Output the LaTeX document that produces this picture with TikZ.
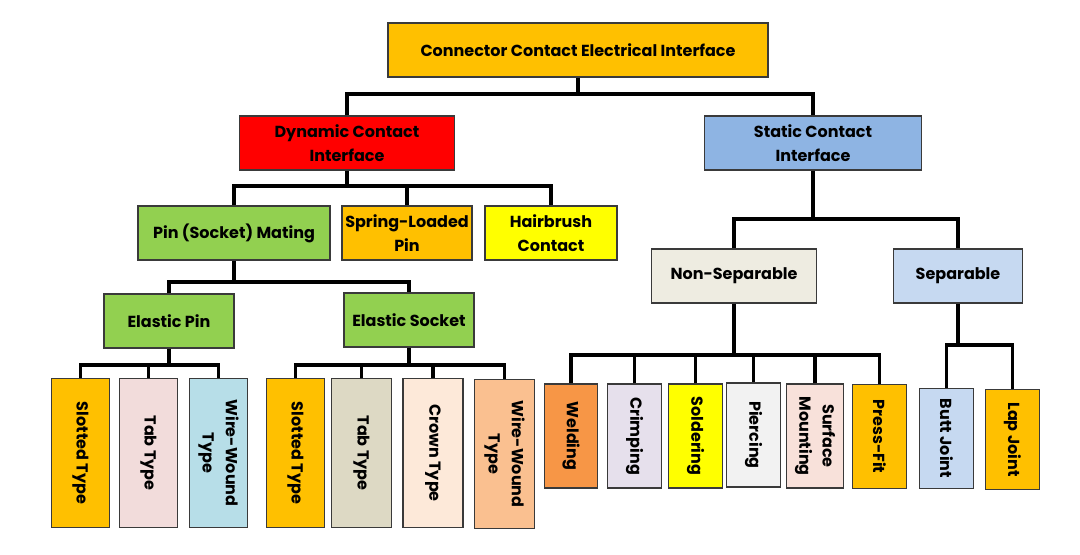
\documentclass[tikz,border=0pt]{standalone}
\usepackage{fontspec}
\setmainfont{Poppins}
\usepackage{xcolor}
\definecolor{ccamber}{HTML}{FFC000}
\definecolor{ccred}{HTML}{FF0000}
\definecolor{ccblue}{HTML}{8EB4E3}
\definecolor{ccgreen}{HTML}{92D050}
\definecolor{ccyellow}{HTML}{FFFF00}
\definecolor{ccpink}{HTML}{F2DCDB}
\definecolor{ccaqua}{HTML}{B7DEE8}
\definecolor{cctaupe}{HTML}{DDD9C4}
\definecolor{cccream}{HTML}{FDE9D9}
\definecolor{ccpeach}{HTML}{FAC090}
\definecolor{ccstone}{HTML}{EEECE1}
\definecolor{ccsky}{HTML}{C6D9F1}
\definecolor{ccorange}{HTML}{F79646}
\definecolor{cclilac}{HTML}{E6E0EC}
\definecolor{ccsilver}{HTML}{F2F2F2}
\definecolor{ccblush}{HTML}{F8E1DA}
\definecolor{ccedge}{HTML}{3A3A3A}
\usepackage{tikz}
\tikzset{
  % --- BOXES ---
  box/.style={
    draw=ccedge,
    line width=0.9pt,
    text=black,
    font=\bfseries\fontsize{12}{17.5}\selectfont,
    inner sep=2pt,
    align=center
  },
  head-box/.style={
    box,
    minimum height=40.5pt
  },
  tall-leaf/.style={
    box,
    rotate=-90,
    minimum width=112pt,
    minimum height=43pt
  },
  short-leaf/.style={
    box,
    rotate=-90,
    minimum width=78pt,
    minimum height=40pt
  },
  % --- CONNECTORS ---
  link/.style={
    draw=black,
    line width=2.4pt
  },
}

\begin{document}
\begin{tikzpicture}[x=0.75pt, y=-0.75pt]
  \useasboundingbox (0,0) rectangle (1080,555);

  % --- bus levels
  \coordinate (bus0) at (0,94);
  \coordinate (bus1) at (0,186);
  \coordinate (bus2) at (0,282);
  \coordinate (bus3) at (0,365);
  \coordinate (bus4) at (0,365);
  \coordinate (bus5) at (0,219);
  \coordinate (bus6) at (0,355);
  \coordinate (bus7) at (0,345);

  % --- top
  \node[head-box, fill=ccamber, minimum width=285pt] (root) at (578,50) {Connector Contact Electrical Interface};
  \node[head-box, fill=ccred, minimum width=161pt] (dyn) at (347,143) {Dynamic Contact\\Interface};
  \node[head-box, fill=ccblue, minimum width=163pt] (stat) at (813,143) {Static Contact\\Interface};

  % --- dynamic branch
  \node[head-box, fill=ccgreen, minimum width=144pt] (mating) at (234,233) {Pin (Socket) Mating};
  \node[head-box, fill=ccamber, minimum width=97.5pt] (spring) at (407,233) {Spring-Loaded\\Pin};
  \node[head-box, fill=ccyellow, minimum width=99pt] (hair) at (551,233) {Hairbrush\\Contact};
  \node[head-box, fill=ccgreen, minimum width=97.5pt] (epin) at (169,321) {Elastic Pin};
  \node[head-box, fill=ccgreen, minimum width=97.5pt] (esock) at (409,320) {Elastic Socket};

  \node[tall-leaf, fill=ccamber] (pslot) at (80.5,453) {Slotted Type};
  \node[tall-leaf, fill=ccpink] (ptab) at (148.5,453) {Tab Type};
  \node[tall-leaf, fill=ccaqua] (pwire) at (218.5,453) {Wire-Wound\\Type};
  \node[tall-leaf, fill=ccamber] (sslot) at (295.5,453) {Slotted Type};
  \node[tall-leaf, fill=cctaupe, minimum height=45pt] (stab) at (361.5,453) {Tab Type};
  \node[tall-leaf, fill=cccream, minimum height=45pt] (scrown) at (433,453) {Crown Type};
  \node[tall-leaf, fill=ccpeach, minimum height=45pt] (swire) at (504.5,454) {Wire-Wound\\Type};

  % --- static branch
  \node[head-box, fill=ccstone, minimum width=124pt] (nsep) at (734,276) {Non-Separable};
  \node[head-box, fill=ccsky, minimum width=97pt] (sep) at (958,276) {Separable};

  \node[short-leaf, fill=ccorange] (weld) at (571,436) {Welding};
  \node[short-leaf, fill=cclilac] (crimp) at (634.5,436) {Crimping};
  \node[short-leaf, fill=ccyellow] (solder) at (695.5,436) {Soldering};
  \node[short-leaf, fill=ccsilver] (pierce) at (753.5,435) {Piercing};
  \node[short-leaf, fill=ccblush, minimum height=43pt] (smount) at (815,436) {Surface\\Mounting};
  \node[short-leaf, fill=ccamber] (press) at (879.5,436.5) {Press-Fit};
  \node[short-leaf, fill=ccsky, minimum width=75pt] (butt) at (946.5,438.5) {Butt Joint};
  \node[short-leaf, fill=ccamber, minimum width=75pt] (lap) at (1012.5,439.5) {Lap Joint};

  % --- connectors
  \draw[link] (root.south) -- (root.south |- bus0);
  \draw[link] (dyn.north) |- (stat.north |- bus0) -- (stat.north);

  \draw[link] (dyn.south) -- (dyn.south |- bus1);
  \draw[link] (mating.north) |- (hair.north |- bus1) -- (hair.north);
  \draw[link] (spring.north) -- (spring.north |- bus1);

  \draw[link] (mating.south) -- (mating.south |- bus2);
  \draw[link] (epin.north) |- (esock.north |- bus2) -- (esock.north);

  \draw[link] (epin.south) -- (epin.south |- bus3);
  \draw[link] (pslot.west) |- (pwire.west |- bus3) -- (pwire.west);
  \draw[link] (ptab.west) -- (ptab.west |- bus3);

  \draw[link] (esock.south) -- (esock.south |- bus4);
  \draw[link] (sslot.west) |- (swire.west |- bus4) -- (swire.west);
  \draw[link] (stab.west) -- (stab.west |- bus4);
  \draw[link] (scrown.west) -- (scrown.west |- bus4);

  \draw[link] (stat.south) -- (stat.south |- bus5);
  \draw[link] (nsep.north) |- (sep.north |- bus5) -- (sep.north);

  \draw[link] (nsep.south) -- (nsep.south |- bus6);
  \draw[link] (weld.west) |- (press.west |- bus6) -- (press.west);
  \draw[link] (crimp.west) -- (crimp.west |- bus6);
  \draw[link] (solder.west) -- (solder.west |- bus6);
  \draw[link] (pierce.west) -- (pierce.west |- bus6);
  \draw[link] (smount.west) -- (smount.west |- bus6);

  \draw[link] (sep.south) -- (sep.south |- bus7);
  \draw[link] (butt.west) |- (lap.west |- bus7) -- (lap.west);

\end{tikzpicture}
\end{document}
